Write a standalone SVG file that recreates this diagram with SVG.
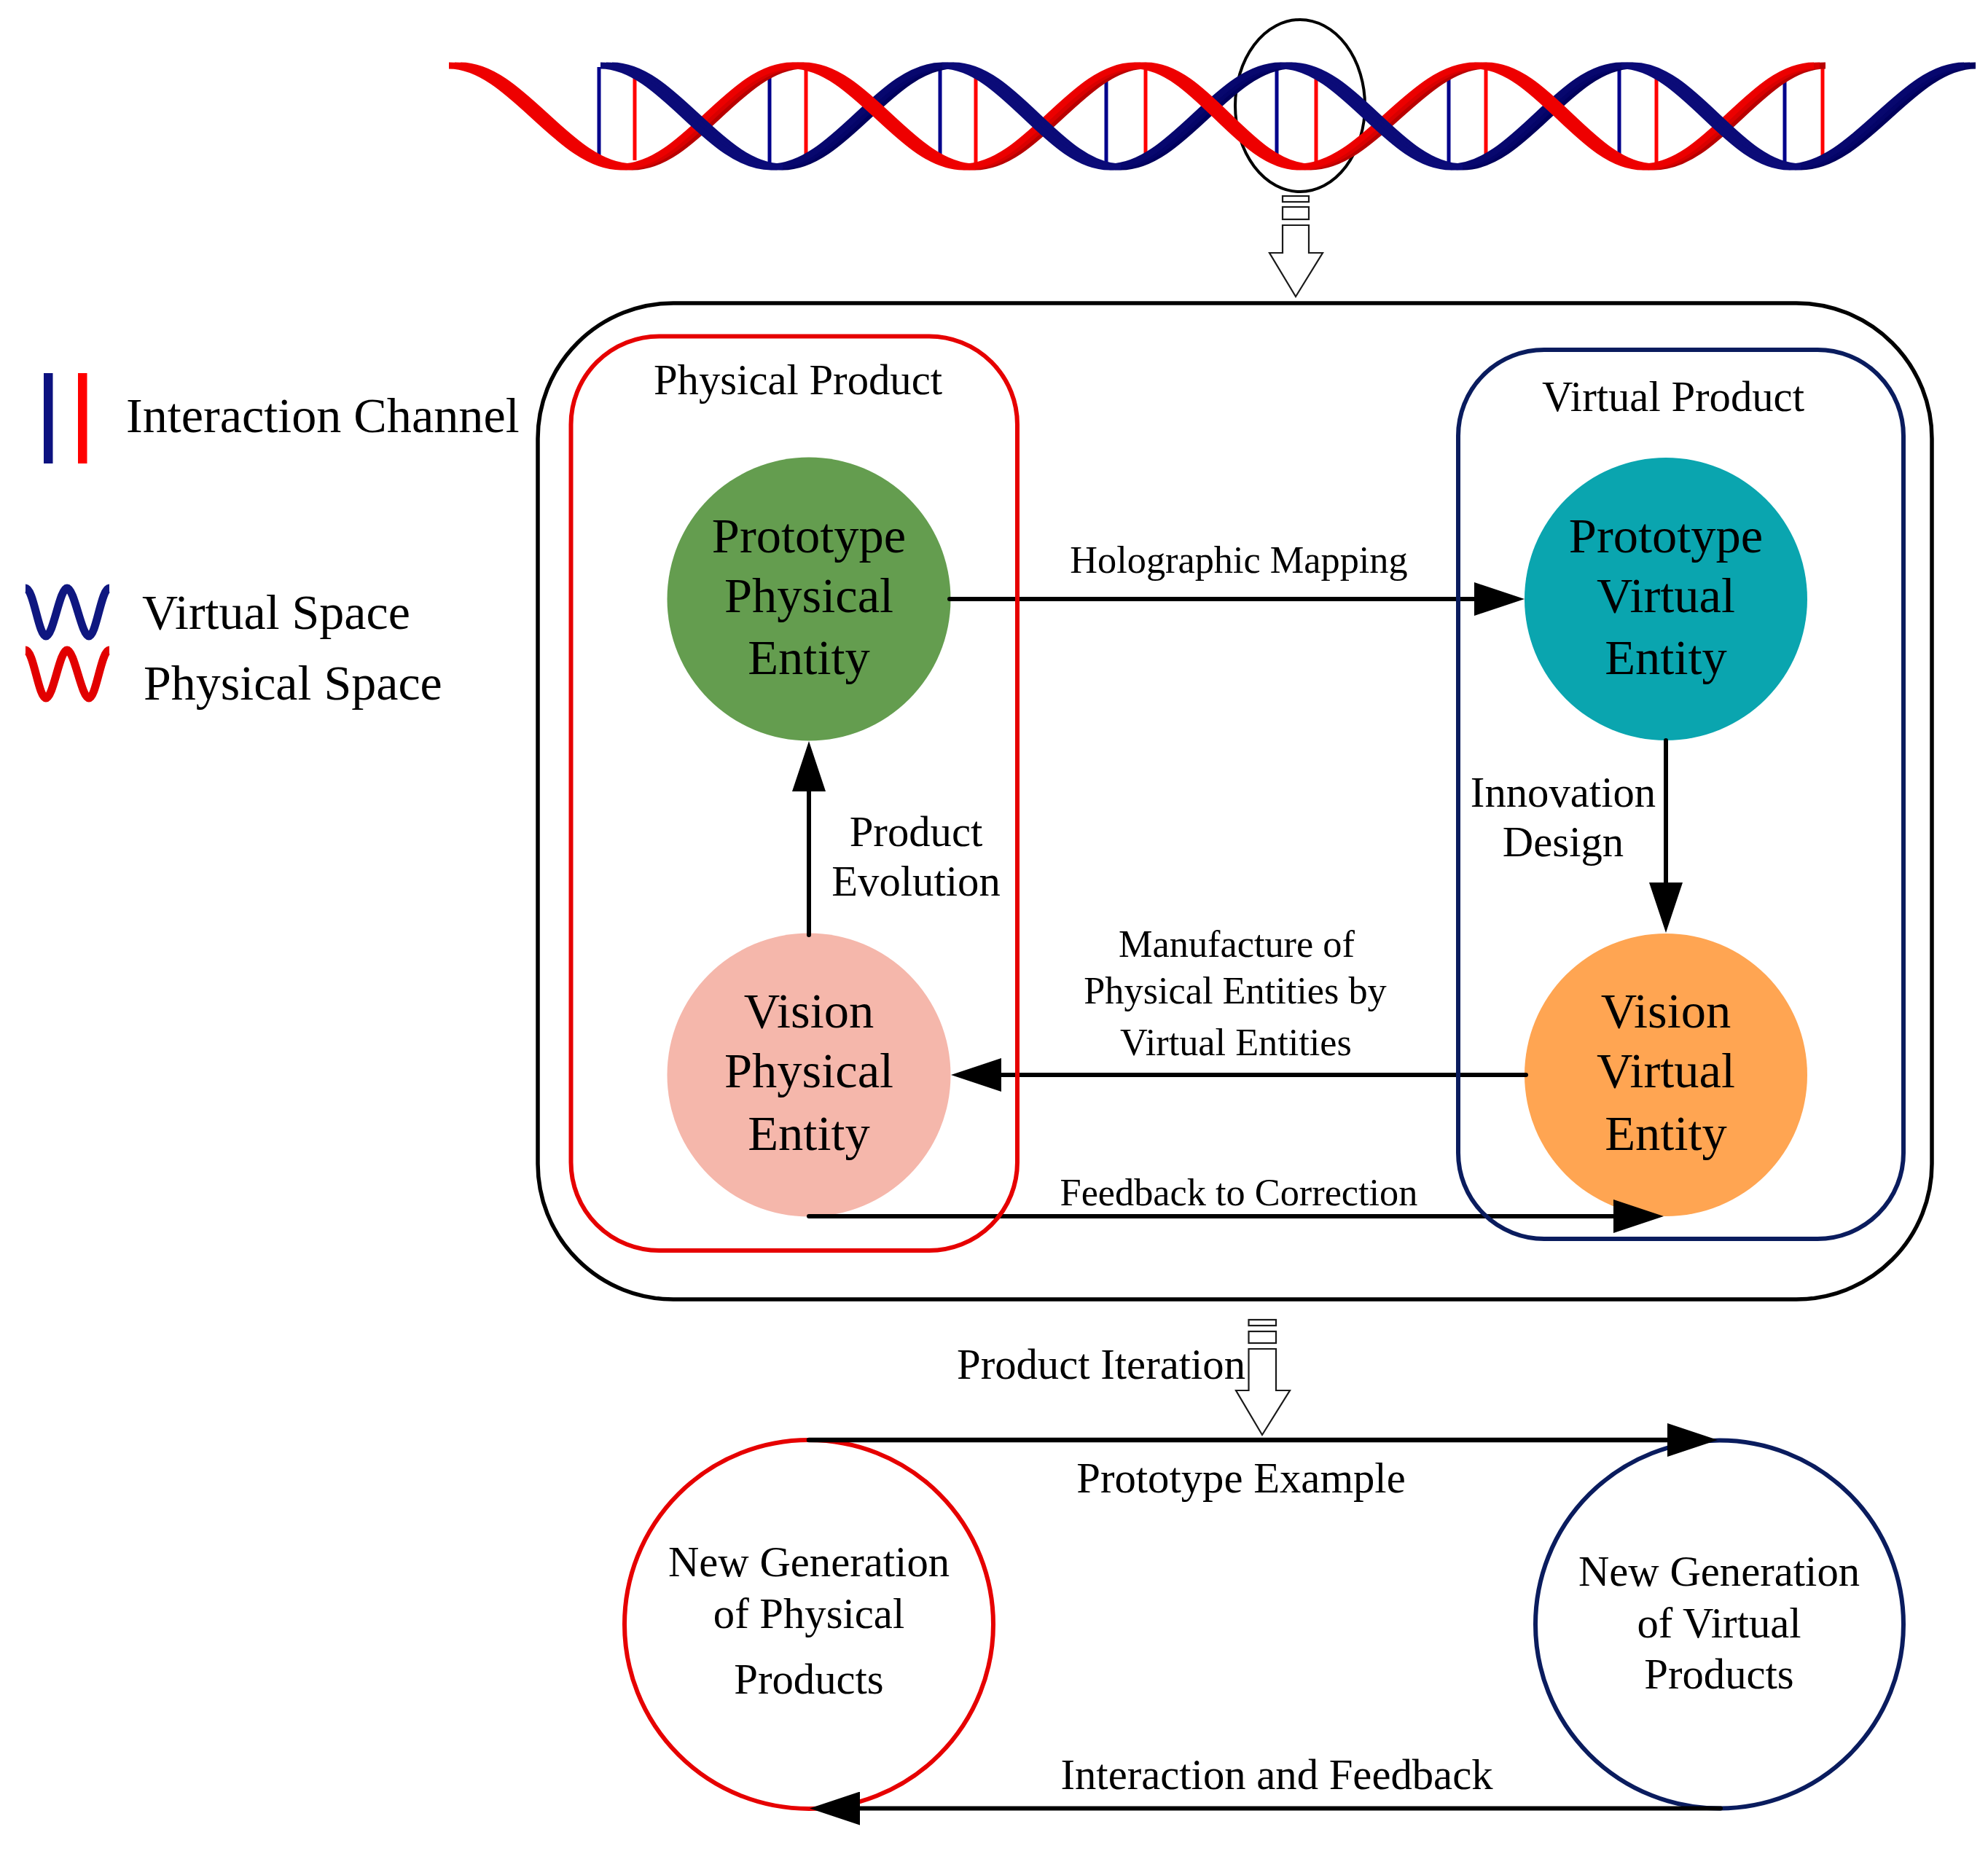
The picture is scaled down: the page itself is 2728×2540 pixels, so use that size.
<svg xmlns="http://www.w3.org/2000/svg" width="2728" height="2540" viewBox="0 0 2728 2540">
<style>
text{font-family:"Liberation Serif","Times New Roman",serif;fill:#000;text-anchor:middle}
.s52{font-size:52.3px}.s58{font-size:58.7px}.s68{font-size:68.5px}
.st{text-anchor:start}
.frame{fill:none;stroke:#000;stroke-width:5.5}
.pr{fill:none;stroke:#e60000;stroke-width:6}
.vr{fill:none;stroke:#0a1c5e;stroke-width:6}
.conn{fill:none;stroke:#000;stroke-width:6;stroke-linecap:round;marker-end:url(#head)}
.hollow{fill:#fff;stroke:#1a1a1a;stroke-width:2.2}
.wave{fill:none;stroke-width:9}
.rb{stroke:#00008b;stroke-width:5}.rr{stroke:#ff0000;stroke-width:5}
</style>
<defs>
<marker id="head" markerUnits="userSpaceOnUse" markerWidth="69" markerHeight="46" viewBox="0 0 69 46" refX="10" refY="23" orient="auto"><path d="M0 0L69 23L0 46Z" fill="#000"/></marker>
<path id="redRise" d="M860 229C946 229 1009 90 1095 90M1330 229C1416 229 1479 90 1565 90M1790 229C1878 229 1944 90 2032 90M2262 229C2350 229 2411 90 2497 90"/>
<path id="blueRise" d="M1066 229C1152 229 1215 90 1301 90M1530 229C1616 229 1679 90 1765 90M1999 229C2085 229 2147 90 2233 90M2463 229C2551 229 2617 90 2703 90"/>
<path id="redFall" d="M624 90C708 90 774 229 860 229M1095 90C1181 90 1244 229 1330 229M1565 90C1647 90 1708 229 1790 229M2032 90C2116 90 2178 229 2262 229"/>
<path id="blueFall" d="M832 90C916 90 980 229 1066 229M1301 90C1384 90 1447 229 1530 229M1765 90C1851 90 1913 229 1999 229M2233 90C2317 90 2379 229 2463 229"/>
<path id="w" d="M35 807C46 807 53 873 63 873C73 873 82 807 92 807C102 807 112 873 122 873C132 873 139 807 150 807"/>
</defs>
<rect width="2728" height="2540" fill="#fff"/>

<g id="dna">
<ellipse cx="1784" cy="145" rx="89" ry="118" fill="none" stroke="#000" stroke-width="4"/>
<g id="dna-rungs">
<path class="rb" d="M822 92V216M1056 100V223M1290 93V216M1518 103V225M1752 94V216M1988 103V225M2222 93V216M2449 100V224"/>
<path class="rr" d="M871 97V220M1106 94V216M1339 103V225M1572 94V217M1806 103V225M2039 94V216M2273 100V223M2501 93V217"/>
</g>
<use href="#redRise" x="8" class="wave" stroke="#b80000"/>
<use href="#redRise" x="0" class="wave" stroke="#d80000"/>
<use href="#redRise" x="-8" class="wave" stroke="#ec0000"/>
<use href="#blueRise" x="8" class="wave" stroke="#00005c"/>
<use href="#blueRise" x="0" class="wave" stroke="#040468"/>
<use href="#blueRise" x="-8" class="wave" stroke="#07076e"/>
<use href="#redFall" x="8" class="wave" stroke="#ee0000"/>
<use href="#redFall" x="0" class="wave" stroke="#ee0000"/>
<use href="#redFall" x="-8" class="wave" stroke="#ee0000"/>
<use href="#blueFall" x="8" class="wave" stroke="#0b0b78"/>
<use href="#blueFall" x="0" class="wave" stroke="#0b0b78"/>
<use href="#blueFall" x="-8" class="wave" stroke="#0b0b78"/>
</g>

<g id="legend">
<rect x="60" y="512" width="12.5" height="124" fill="#0c1280"/>
<rect x="107" y="512" width="12.5" height="124" fill="#ff0000"/>
<text style="font-size:68.2px" class="st" x="173" y="593">Interaction Channel</text>
<use href="#w" fill="none" stroke="#0f1780" stroke-width="11"/>
<use href="#w" y="85" fill="none" stroke="#e20000" stroke-width="11"/>
<text style="font-size:68px" class="st" x="195" y="863">Virtual Space</text>
<text style="font-size:68px" class="st" x="197" y="960">Physical Space</text>
</g>

<g id="zoom-arrow-top">
<rect class="hollow" x="1760" y="269" width="36" height="8"/>
<rect class="hollow" x="1760" y="284" width="36" height="17"/>
<path class="hollow" d="M1760 309H1796V347H1815L1778 407L1742 347H1760Z"/>
</g>

<g id="digital-twin-frame"><rect class="frame" x="738" y="416" width="1913" height="1367" rx="186" ry="186"/></g>

<g id="prototype-physical-entity">
<circle cx="1110" cy="822" r="194.5" fill="#649d4f"/>
<text class="s68" x="1110" y="758">Prototype</text>
<text class="s68" x="1110" y="840">Physical</text>
<text class="s68" x="1110" y="925">Entity</text>
</g>
<g id="prototype-virtual-entity">
<circle cx="2286" cy="822" r="194" fill="#0aa5af"/>
<text class="s68" x="2286" y="758">Prototype</text>
<text class="s68" x="2286" y="840">Virtual</text>
<text class="s68" x="2286" y="925">Entity</text>
</g>
<g id="vision-physical-entity">
<circle cx="1110" cy="1475" r="194.5" fill="#f5b7ab"/>
<text class="s68" x="1110" y="1410">Vision</text>
<text class="s68" x="1110" y="1492">Physical</text>
<text class="s68" x="1110" y="1578">Entity</text>
</g>
<g id="vision-virtual-entity">
<circle cx="2286" cy="1475" r="194" fill="#ffa552"/>
<text class="s68" x="2286" y="1410">Vision</text>
<text class="s68" x="2286" y="1492">Virtual</text>
<text class="s68" x="2286" y="1578">Entity</text>
</g>
<g id="new-physical-products">
<circle class="pr" cx="1110" cy="2229" r="253"/>
<text class="s58" x="1110" y="2162.5">New Generation</text>
<text class="s58" x="1110" y="2233.5">of Physical</text>
<text class="s58" x="1110" y="2323.5">Products</text>
</g>
<g id="new-virtual-products">
<circle class="vr" cx="2359.5" cy="2229" r="252.5"/>
<text class="s58" x="2359" y="2176">New Generation</text>
<text class="s58" x="2359" y="2247">of Virtual</text>
<text class="s58" x="2359" y="2317">Products</text>
</g>

<g id="connectors">
<line class="conn" x1="1303" y1="822" x2="2033" y2="822"/>
<line class="conn" x1="2286" y1="1016" x2="2286" y2="1221"/>
<line class="conn" x1="1110" y1="1283" x2="1110" y2="1076"/>
<line class="conn" x1="2094" y1="1475" x2="1364" y2="1475"/>
<line class="conn" x1="1110" y1="1669" x2="2224" y2="1669"/>
<line class="conn" x1="1110" y1="1976" x2="2298" y2="1976" style="stroke-width:6.5"/>
<line class="conn" x1="2361" y1="2481.5" x2="1170" y2="2481.5"/>
</g>
<g id="connector-labels">
<text class="s52" x="1700" y="785.5">Holographic Mapping</text>
<text class="s58" x="2145" y="1107">Innovation</text>
<text class="s58" x="2145" y="1174.5">Design</text>
<text class="s58" x="1257" y="1161">Product</text>
<text class="s58" x="1257" y="1229">Evolution</text>
<text class="s52" x="1697" y="1313">Manufacture of</text>
<text class="s52" x="1695" y="1377">Physical Entities by</text>
<text class="s52" x="1696" y="1448">Virtual Entities</text>
<text class="s52" x="1700" y="1654">Feedback to Correction</text>
<text class="s58 st" x="1313" y="1892">Product Iteration</text>
<text class="s58" x="1703" y="2048">Prototype Example</text>
<text class="s58" x="1752" y="2455">Interaction and Feedback</text>
</g>

<g id="physical-product">
<rect class="pr" x="783.5" y="461.5" width="612.5" height="1254.5" rx="121" ry="121"/>
<text class="s58" x="1095" y="541">Physical Product</text>
</g>
<g id="virtual-product">
<rect class="vr" x="2001" y="480" width="611" height="1220" rx="118" ry="118"/>
<text class="s58" x="2296" y="563.5">Virtual Product</text>
</g>

<g id="zoom-arrow-bottom">
<rect class="hollow" x="1713.5" y="1811" width="37.5" height="8"/>
<rect class="hollow" x="1713.5" y="1827" width="37.5" height="16"/>
<path class="hollow" d="M1713.5 1851H1751V1908H1770L1732 1969L1696 1908H1713.5Z"/>
</g>
</svg>
